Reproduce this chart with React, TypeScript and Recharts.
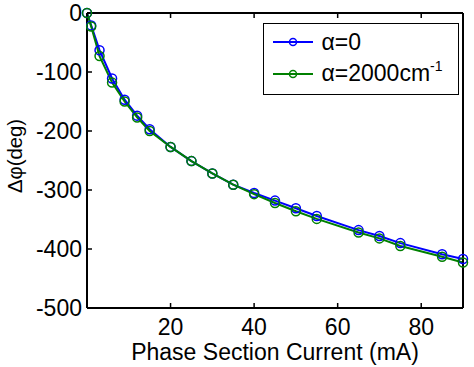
import { LineChart, Line, XAxis, YAxis, Legend } from 'recharts';

const FONT = '"Liberation Sans", Arial, sans-serif';

// phase section current (mA)
const current = [0, 1, 3, 6, 9, 12, 15, 20, 25, 30, 35, 40, 45, 50, 55, 65, 70, 75, 85, 90];
// phase shift (deg), alpha = 0
const phaseAlpha0 = [0, -21, -63, -111, -147, -174, -197, -227, -251, -272, -291, -305, -318, -331, -344, -368, -378, -390, -409, -417];
// phase shift (deg), alpha = 2000 cm^-1
const phaseAlpha2000 = [0, -23, -73, -118, -150, -177, -200, -227, -251, -272, -291, -307, -322, -336, -349, -372, -382, -395, -413, -423];

const xTicks = [20, 40, 60, 80];
const yTicks = [-500, -400, -300, -200, -100, 0];

const data = current.map((c, i) => ({
  current: c,
  a0: phaseAlpha0[i],
  a2000: phaseAlpha2000[i],
}));

const tickStyle = { fill: '#000', fontSize: 23, fontFamily: FONT };
const axisLine = { stroke: '#000', strokeWidth: 2 };
const tickLine = { stroke: '#000', strokeWidth: 1.5 };

function renderLegend(props: any) {
  const { payload = [] } = props;
  return (
    <div
      style={{
        boxSizing: 'border-box',
        width: 196,
        height: 72,
        border: '1.5px solid #000',
        background: '#fff',
        paddingTop: 2,
      }}
    >
      {payload.map((entry: any) => {
        const [base, sup] = String(entry.value).split('^');
        return (
          <div key={base} style={{ display: 'flex', alignItems: 'center', height: 32 }}>
            <svg width={40} height={12} style={{ marginLeft: 8.5, display: 'block' }}>
              <line x1={0} y1={6} x2={40} y2={6} stroke={entry.color} strokeWidth={2} />
              <circle cx={20} cy={6} r={3.5} fill="none" stroke={entry.color} strokeWidth={1.5} />
            </svg>
            <span style={{ marginLeft: 9, fontFamily: FONT, fontSize: 23, color: '#000', lineHeight: '32px', whiteSpace: 'nowrap' }}>
              {base}
              {sup && <span style={{ fontSize: 14, position: 'relative', top: -10 }}>{sup}</span>}
            </span>
          </div>
        );
      })}
    </div>
  );
}

export default function App() {
  return (
    <div style={{ position: 'fixed', left: 0, top: 0, width: 474, height: 367, background: '#fff' }}>
      <LineChart width={474} height={367} data={data} margin={{ top: 0, right: 0, bottom: 0, left: 0 }}>
        <XAxis
          xAxisId="bottom"
          dataKey="current"
          type="number"
          domain={[0, 90]}
          ticks={xTicks}
          height={59}
          axisLine={axisLine}
          tickLine={tickLine}
          tickSize={-5}
          tickMargin={16}
          tick={tickStyle}
          label={{ value: 'Phase Section Current (mA)', position: 'insideBottom', offset: 7, fill: '#000', fontSize: 23, fontFamily: FONT }}
        />
        <XAxis
          xAxisId="top"
          orientation="top"
          dataKey="current"
          type="number"
          domain={[0, 90]}
          ticks={xTicks}
          height={13}
          axisLine={axisLine}
          tickLine={tickLine}
          tickSize={-5}
          tickFormatter={() => ''}
        />
        <YAxis
          yAxisId="left"
          type="number"
          domain={[-500, 0]}
          ticks={yTicks}
          width={87}
          axisLine={axisLine}
          tickLine={tickLine}
          tickSize={-5}
          tickMargin={10}
          tick={tickStyle}
          label={{
            content: () => (
              <text
                x={15}
                y={156}
                transform="rotate(-90 15 156)"
                textAnchor="middle"
                dominantBaseline="central"
                fill="#000"
                fontSize={20}
                fontFamily={FONT}
                textLength={74}
                lengthAdjust="spacingAndGlyphs"
              >
                Δφ(deg)
              </text>
            ),
          }}
        />
        <YAxis
          yAxisId="right"
          orientation="right"
          type="number"
          domain={[-500, 0]}
          ticks={yTicks}
          width={11}
          axisLine={axisLine}
          tickLine={tickLine}
          tickSize={-5}
          tickFormatter={() => ''}
        />
        <Legend
          layout="vertical"
          align="center"
          verticalAlign="middle"
          wrapperStyle={{ position: 'absolute', left: 263, top: 23, width: 196, height: 72 }}
          content={renderLegend}
        />
        <Line
          xAxisId="bottom"
          yAxisId="left"
          dataKey="a0"
          name="α=0"
          stroke="#0000ff"
          strokeWidth={2}
          dot={{ r: 4.5, stroke: '#0000ff', strokeWidth: 1.5, fill: 'none' }}
          isAnimationActive={false}
        />
        <Line
          xAxisId="bottom"
          yAxisId="left"
          dataKey="a2000"
          name="α=2000cm^-1"
          stroke="#008000"
          strokeWidth={2}
          dot={{ r: 4.5, stroke: '#008000', strokeWidth: 1.5, fill: 'none' }}
          isAnimationActive={false}
        />
      </LineChart>
    </div>
  );
}
